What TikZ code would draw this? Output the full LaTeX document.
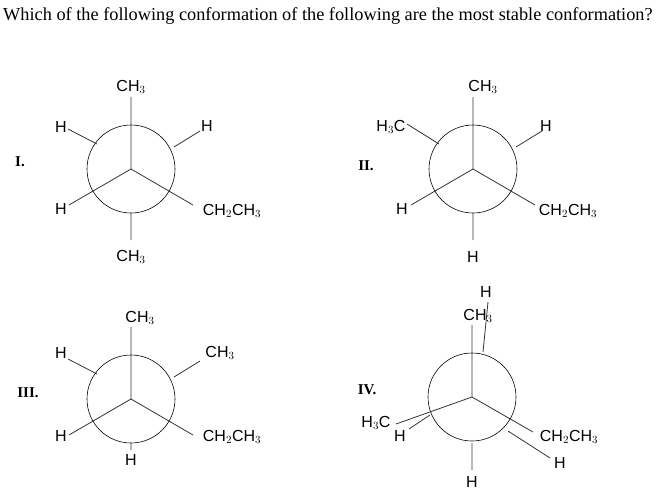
\documentclass[tikz,border=0pt]{standalone}
\usepackage{fontspec}
\setmainfont{Liberation Serif}
\setsansfont{Liberation Sans}
\begin{document}
\begin{tikzpicture}[x=1pt,y=-1pt,
  lab/.style={font=\sffamily\fontsize{16}{18}\selectfont,inner sep=0pt},
  num/.style={font=\bfseries\fontsize{15}{17}\selectfont,inner sep=0pt},
  bond/.style={line width=0.8pt,gray!40!black},
  ring/.style={line width=0.6pt}]
\useasboundingbox (0,0) rectangle (669,493);
\node[inner sep=0pt,anchor=west,font=\fontsize{18.3}{20}\selectfont] (title) at (3,16) {Which of the following conformation of the following are the most stable conformation?};
% I
\coordinate (c1) at (131,169);
\draw[ring] (c1) circle (44);
\draw[bond] (c1) -- (131,97) (c1) -- (69,205) (c1) -- (193,205);
\draw[bond] (97,144) -- (68,129) (174,147) -- (200,131) (131,213) -- (131,240);
\node[num] (n1) at (20,162) {I.};
\node[lab] (a1) at (131,87) {CH$_3$};
\node[lab] (a2) at (61,127) {H};
\node[lab] (a3) at (207,126) {H};
\node[lab] (a4) at (61,209) {H};
\node[lab] (a5) at (232,211) {CH$_2$CH$_3$};
\node[lab] (a6) at (131,257) {CH$_3$};
% II
\coordinate (c2) at (473,169);
\draw[ring] (c2) circle (44);
\draw[bond] (c2) -- (473,97) (c2) -- (411,205) (c2) -- (535,205);
\draw[bond] (439,144) -- (407,124) (516,147) -- (542,131) (473,213) -- (473,240);
\node[num] (n2) at (366,166) {II.};
\node[lab] (b1) at (483,87) {CH$_3$};
\node[lab] (b2) at (391,127) {H$_3$C};
\node[lab] (b3) at (546,126) {H};
\node[lab] (b4) at (402,209) {H};
\node[lab] (b5) at (568,211) {CH$_2$CH$_3$};
\node[lab] (b6) at (473,257) {H};
% III
\coordinate (c3) at (131,399);
\draw[ring] (c3) circle (44);
\draw[bond] (c3) -- (131,327) (c3) -- (69,435) (c3) -- (193,435);
\draw[bond] (97,374) -- (68,359) (174,377) -- (200,361) (131,443) -- (131,450);
\node[num] (n3) at (28,393) {III.};
\node[lab] (d1) at (140,318) {CH$_3$};
\node[lab] (d2) at (61,353) {H};
\node[lab] (d3) at (220,353) {CH$_3$};
\node[lab] (d4) at (61,436) {H};
\node[lab] (d5) at (232,437) {CH$_2$CH$_3$};
\node[lab] (d6) at (131,460) {H};
% IV
\coordinate (c4) at (472,397);
\draw[ring] (c4) circle (44);
\draw[bond] (c4) -- (472,325) (c4) -- (396,424) (c4) -- (533,432);
\draw[bond] (483,352) -- (488,302) (430,415) -- (409,429) (508,431) -- (550,458) (472,443) -- (472,470);
\node[num] (n4) at (367,390) {IV.};
\node[lab] (e0) at (486,292) {H};
\node[lab] (e1) at (478,316) {CH$_3$};
\node[lab] (e2) at (376,423) {H$_3$C};
\node[lab] (e3) at (400,436) {H};
\node[lab] (e4) at (569,437) {CH$_2$CH$_3$};
\node[lab] (e5) at (560,463) {H};
\node[lab] (e6) at (472,482) {H};
\end{tikzpicture}
\end{document}
